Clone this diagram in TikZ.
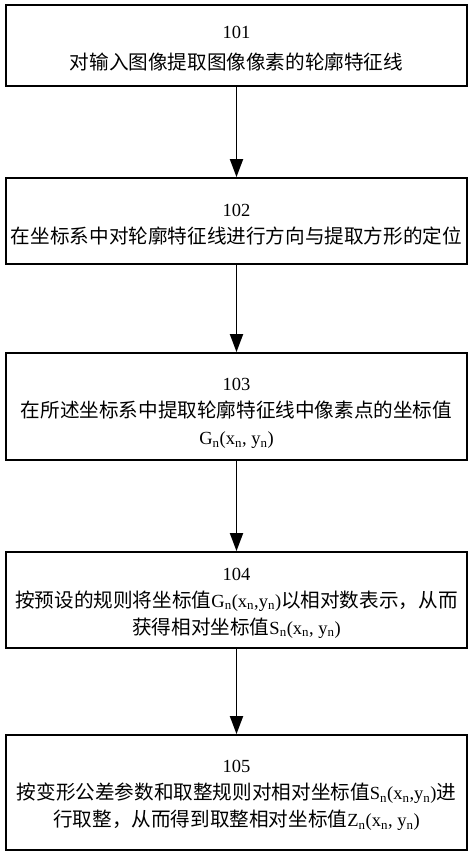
\documentclass[tikz,border=0pt]{standalone}
\usepackage{fontspec}
\setmainfont{Liberation Serif}
\newfontfamily\cjk[Scale=1.06]{Noto Sans CJK SC}
\usetikzlibrary{arrows.meta}
\newcommand{\sbn}{\textsubscript{n}}
\tikzset{
  stepbox/.style={draw=black, line width=1.8pt, minimum width=461pt, inner sep=0pt},
  steptext/.style={inner sep=0pt, align=center, font=\fontsize{18.5}{27}\selectfont},
  flow/.style={line width=1.8pt, -{Triangle[length=18pt,width=13pt]}}
}
\begin{document}
\begin{tikzpicture}[x=1pt,y=-1pt]
\useasboundingbox[fill=white] (0,0) rectangle (474,855);
\node[stepbox, minimum height=81pt] (b1) at (236.5,45.5) {};
\node[stepbox, minimum height=86pt] (b2) at (236.5,221) {};
\node[stepbox, minimum height=107pt] (b3) at (236.5,406.5) {};
\node[stepbox, minimum height=96pt] (b4) at (236.5,600) {};
\node[stepbox, minimum height=115pt] (b5) at (236.5,792.5) {};
\node[steptext, yshift=-3pt] (t1) at (b1.center)
  {101\\[4pt]{\cjk 对输入图像提取图像像素的轮廓特征线}};
\node[steptext, yshift=-4pt] (t2) at (b2.center)
  {102\\{\cjk 在坐标系中对轮廓特征线进行方向与提取方形的定位}};
\node[steptext, yshift=-7pt] (t3) at (b3.center)
  {103\\{\cjk 在所述坐标系中提取轮廓特征线中像素点的坐标值}\\G\sbn(x\sbn, y\sbn)};
\node[steptext, yshift=-3pt] (t4) at (b4.center)
  {104\\{\cjk 按预设的规则将坐标值}G\sbn(x\sbn,y\sbn){\cjk 以相对数表示，从而}\\{\cjk 获得相对坐标值}S\sbn(x\sbn, y\sbn)};
\node[steptext, yshift=-3pt] (t5) at (b5.center)
  {105\\{\cjk 按变形公差参数和取整规则对相对坐标值}S\sbn(x\sbn,y\sbn){\cjk 进}\\{\cjk 行取整，从而得到取整相对坐标值}Z\sbn(x\sbn, y\sbn)};
\draw[flow] (b1.south) -- (b2.north);
\draw[flow] (b2.south) -- (b3.north);
\draw[flow] (b3.south) -- (b4.north);
\draw[flow] (b4.south) -- (b5.north);
\end{tikzpicture}
\end{document}
